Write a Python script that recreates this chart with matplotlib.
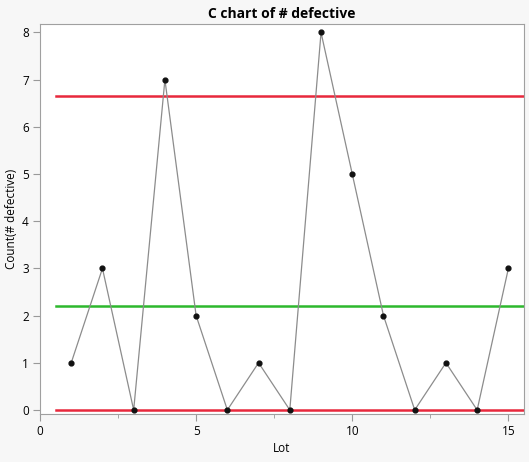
import matplotlib
matplotlib.use("Agg")
import matplotlib.pyplot as plt
import numpy as np

lots = list(range(1, 16))
counts = [1, 3, 0, 7, 2, 0, 1, 0, 8, 5, 2, 0, 1, 0, 3]
center = 2.2
ucl = 6.65
lcl = 0.0
x_ticks = [0, 5, 10, 15]
y_ticks = [0, 1, 2, 3, 4, 5, 6, 7, 8]

plt.rcParams['font.family'] = ['Open Sans', 'DejaVu Sans']

fig = plt.figure(figsize=(5.29, 4.62), dpi=100, facecolor='#f7f7f7')
ax = fig.add_axes([40/529, 48/462, 484/529, 390.5/462])
ax.set_facecolor('white')

x0, x1 = 0.5, 15.5
ax.plot([x0, x1], [ucl, ucl], color='#e8283c', lw=1.8, zorder=2)
ax.plot([x0, x1], [lcl, lcl], color='#e8283c', lw=1.8, zorder=2)
ax.plot([x0, x1], [center, center], color='#2db82d', lw=1.8, zorder=2)
ax.plot(lots, counts, color='#8c8c8c', lw=0.9, zorder=3)
ax.scatter(lots, counts, s=12, color='#111111', zorder=4)

ax.set_xlim(0, 15.5)
ax.set_ylim(-0.085, 8.19)
ax.set_xticks(x_ticks)
ax.set_xticks([2.5, 7.5, 12.5], minor=True)
ax.set_yticks(y_ticks)
ax.tick_params(axis='both', which='major', length=5, color='#999999', labelsize=8.5, pad=3)
ax.tick_params(axis='x', which='minor', length=3, color='#999999')
for s in ax.spines.values():
    s.set_color('#a0a0a0')
ax.set_xlabel('Lot', fontsize=8.5, labelpad=3)
ax.set_ylabel('Count(# defective)', fontsize=8.5)
ax.yaxis.set_label_coords(-0.045, 0.5)
ax.set_title('C chart of # defective', fontsize=10, fontweight='bold', pad=4)

fig.savefig('out.png', dpi=100, facecolor=fig.get_facecolor())
